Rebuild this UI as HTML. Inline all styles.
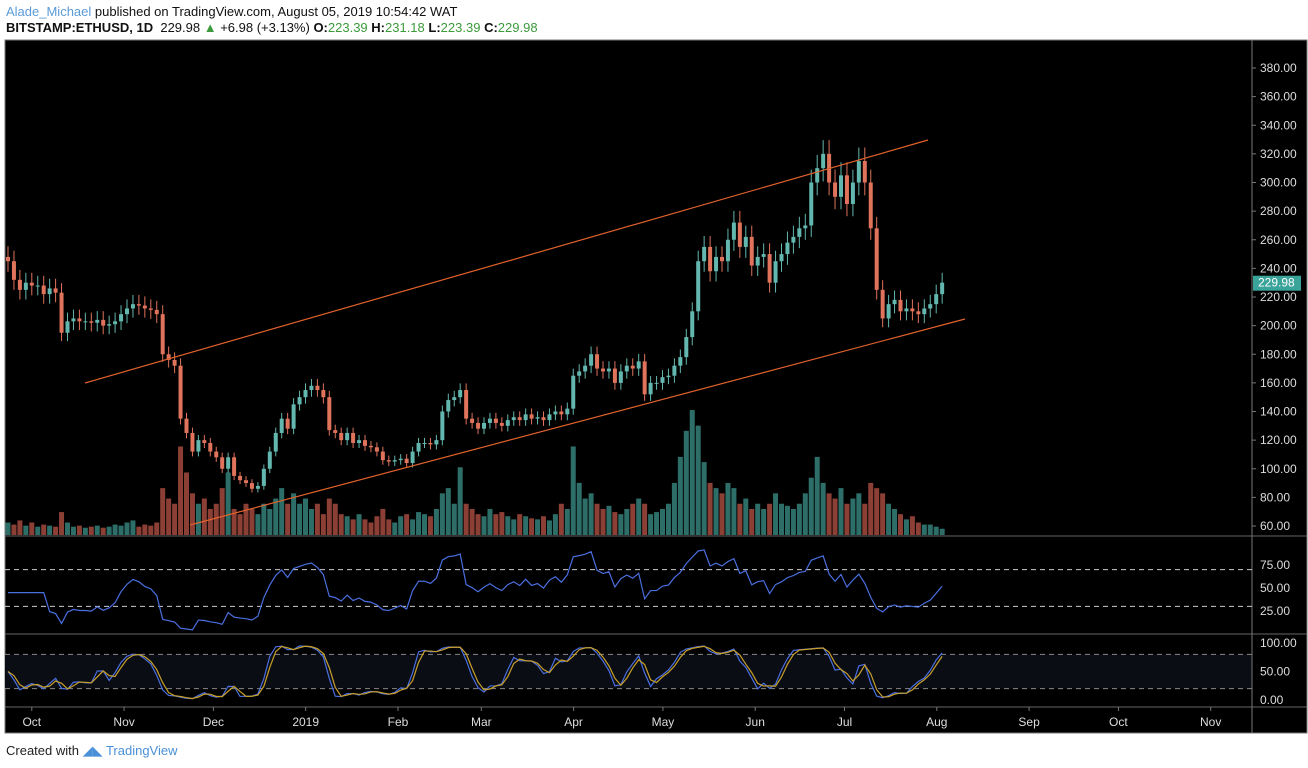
<!DOCTYPE html>
<html><head><meta charset="utf-8">
<style>
body{margin:0;width:1308px;height:768px;background:#fff;overflow:hidden;font-family:"Liberation Sans",sans-serif}
#hdr1{position:absolute;left:6px;top:4px;font-size:13px;color:#111}
#hdr2{position:absolute;left:6px;top:20px;font-size:13px;color:#111}
.g{color:#3c9a3c}
#foot{position:absolute;left:6px;top:743px;font-size:13px;color:#222}
svg{position:absolute;left:0;top:0}
</style></head><body>
<div id="hdr1"><span style="color:#5a9bd8">Alade_Michael</span> published on TradingView.com, August 05, 2019 10:54:42 WAT</div>
<div id="hdr2"><b>BITSTAMP:ETHUSD, 1D</b>&nbsp; 229.98 <span class="g">▲</span> +6.98 (+3.13%) <b>O:</b><span class="g">223.39</span> <b>H:</b><span class="g">231.18</span> <b>L:</b><span class="g">223.39</span> <b>C:</b><span class="g">229.98</span></div>
<svg id="chart" width="1308" height="768"></svg>
<div id="foot">Created with <span style="color:#4a90d9">◢◣ TradingView</span></div>
<script>
const closes=[245,232,225,230,228,228,222,226,223,195,203,205,203,203,202,204,200,201,203,208,212,215,214,212,211,208,180,176,172,135,125,112,120,118,112,108,100,108,95,92,90,86,88,100,112,125,135,128,145,150,155,158,155,150,127,125,120,125,118,120,116,115,112,106,105,106,107,104,112,118,118,117,120,140,148,150,155,135,132,128,132,135,132,130,134,136,134,138,135,136,134,138,140,138,142,165,168,172,180,170,168,170,160,168,172,170,175,152,160,160,164,165,172,178,192,210,245,255,238,248,245,260,272,255,262,242,248,250,230,245,250,258,262,268,270,300,310,320,300,290,305,285,300,315,300,268,225,205,215,218,210,212,210,208,212,215,222,230];
const volumes=[12,10,14,9,12,8,10,9,8,22,12,8,9,7,8,9,7,8,10,9,12,14,8,10,9,12,45,35,30,85,60,40,30,35,25,30,45,60,25,20,30,25,20,30,25,35,45,30,40,30,35,25,30,20,35,30,20,18,15,20,15,12,18,25,15,12,18,20,15,22,20,18,25,40,45,30,65,30,25,20,18,25,20,22,18,15,20,18,16,15,18,14,20,30,25,85,50,35,40,30,25,28,22,20,25,30,35,30,20,22,25,30,50,75,100,120,105,70,50,45,40,50,45,30,35,25,30,25,30,40,30,28,25,30,40,55,75,50,40,35,45,30,35,40,30,50,45,40,30,25,20,15,18,12,10,10,8,6];
const priceTicks=[60,80,100,120,140,160,180,200,220,240,260,280,300,320,340,360,380];
const rsiTicks=[25,50,75];
const stochTicks=[0,50,100];
const months=["Oct","Nov","Dec","2019","Feb","Mar","Apr","May","Jun","Jul","Aug","Sep","Oct","Nov"];
const monthDay=[9,40,70,101,132,160,191,221,252,282,313,344,374,405];
const upperChannel=[[85,383],[928,140]];
const lowerChannel=[[190,525],[965,319]];
const lastPrice=229.98;

const svg=document.getElementById('chart');const NS='http://www.w3.org/2000/svg';
function mk(t,a,p){const e=document.createElementNS(NS,t);for(const k in a)e.setAttribute(k,a[k]);(p||svg).appendChild(e);return e;}
const yP=p=>526-(p-60)*1.43125;
const yR=v=>588-(v-50)*0.92;
const yS=v=>700-v*0.57;
const xI=i=>8+i*5.95;
const xD=d=>5+d*2.977;
const bg=mk('rect',{x:5,y:40,width:1302,height:693,fill:'#000',stroke:'#777'});


const band=mk('rect',{x:5,y:yS(80),width:1247,height:yS(20)-yS(80),fill:'#0b0d14'});


[536,634,707].forEach(y=>{const l=mk('line',{x1:5,x2:1307,y1:y,y2:y,stroke:'#666'});});
const ax=mk('line',{x1:1252,x2:1252,y1:40,y2:733,stroke:'#777'});


priceTicks.forEach(p=>{const t=mk('text',{x:1260,y:yP(p)+4,fill:'#ddd','font-size':12});t.textContent=p.toFixed(2);mk('line',{x1:1252,x2:1256,y1:yP(p),y2:yP(p),stroke:'#777'});});
rsiTicks.forEach(v=>{const t=mk('text',{x:1260,y:yR(v)+4,fill:'#ddd','font-size':12});t.textContent=v.toFixed(2);});
stochTicks.forEach(v=>{const t=mk('text',{x:1260,y:yS(v)+4,fill:'#ddd','font-size':12});t.textContent=v.toFixed(2);});
months.forEach((m,i)=>{const x=xD(monthDay[i]);const t=mk('text',{x:x,y:726,fill:'#ddd','font-size':12,'text-anchor':'middle'});t.textContent=m;mk('line',{x1:x,x2:x,y1:707,y2:711,stroke:'#777'});});
[[yR(70),'#ccc'],[yR(30),'#ccc'],[yS(80),'#888'],[yS(20),'#888']].forEach(a=>{const l=mk('line',{x1:5,x2:1252,y1:a[0],y2:a[0],stroke:a[1],'stroke-dasharray':'5,4'});});
const vMax=Math.max(...volumes);
volumes.forEach((v,i)=>{const up=i==0||closes[i]>=closes[i-1];const h=v/vMax*125;const r=mk('rect',{x:xI(i)-2.5,y:535-h,width:5,height:h,fill:up?'#2d6e69':'#8c3f35'});});
closes.forEach((c,i)=>{const o=i?closes[i-1]:c+3;const up=c>=o;const hi=Math.max(o,c)*1.03;const lo=Math.min(o,c)*0.97;const col=up?'#63b7ae':'#e0735b';
const w=mk('line',{x1:xI(i),x2:xI(i),y1:yP(hi),y2:yP(lo),stroke:col,'stroke-width':1});
const b=mk('rect',{x:xI(i)-2,y:yP(Math.max(o,c)),width:4,height:Math.max(1,Math.abs(yP(o)-yP(c))),fill:col});});
[upperChannel,lowerChannel].forEach(c=>{const l=mk('line',{x1:c[0][0],y1:c[0][1],x2:c[1][0],y2:c[1][1],stroke:'#e0622c','stroke-width':1.2});});
// RSI
const N=7;const rsi=[];let ag=0,al=0;
for(let i=1;i<=N;i++){const d=closes[i]-closes[i-1];ag+=Math.max(d,0)/N;al+=Math.max(-d,0)/N;}
closes.forEach((c,i)=>{if(i<N){rsi.push(45);return;}if(i>N){const d=c-closes[i-1];ag=(ag*(N-1)+Math.max(d,0))/N;al=(al*(N-1)+Math.max(-d,0))/N;}rsi.push(al==0?100:100-100/(1+ag/al));});
const rl=mk('polyline',{points:rsi.map((v,i)=>xI(i)+','+yR(v)).join(' '),fill:'none',stroke:'#4a6fe0','stroke-width':1.2});


const raw=closes.map((c,i)=>{const s=closes.slice(Math.max(0,i-6),i+1);const mx=Math.max(...s)*1.02,mn=Math.min(...s)*0.98;return (c-mn)/(mx-mn)*100;});
const k=raw.map((v,i)=>i?(v+raw[i-1])/2:v);const d=k.map((v,i)=>i?(v+k[i-1])/2:v);
const kl=mk('polyline',{points:k.map((v,i)=>xI(i)+','+yS(v)).join(' '),fill:'none',stroke:'#4a6fe0','stroke-width':1.2});


const dl=mk('polyline',{points:d.map((v,i)=>xI(i)+','+yS(v)).join(' '),fill:'none',stroke:'#c8a02a','stroke-width':1.2});


const lb=mk('rect',{x:1253,y:yP(lastPrice)-7,width:48,height:15,fill:'#3aa39a'});


const lt=mk('text',{x:1258,y:yP(lastPrice)+4,fill:'#fff','font-size':12});lt.textContent=lastPrice.toFixed(2);


</script>
</body></html>
